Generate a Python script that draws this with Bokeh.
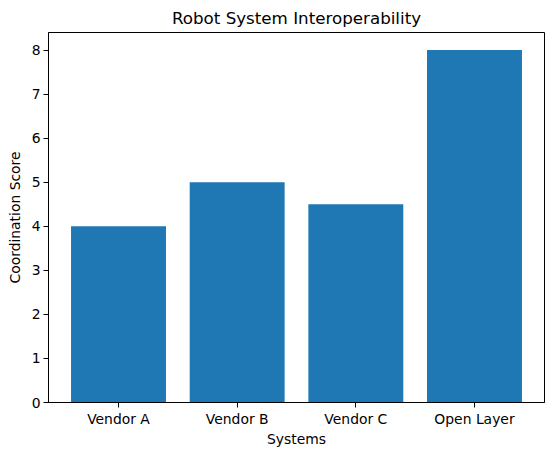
from bokeh.plotting import figure
from bokeh.models import Range1d, FixedTicker
from bokeh.embed import file_html
from bokeh.resources import INLINE

systems = ["Vendor A", "Vendor B", "Vendor C", "Open Layer"]
scores = [4, 5, 4.5, 8]
y_ticks = [0, 1, 2, 3, 4, 5, 6, 7, 8]

xs = list(range(len(systems)))

p = figure(frame_width=496, frame_height=370, output_backend="svg", toolbar_location=None,
           x_range=Range1d(-0.59, 3.59), y_range=Range1d(0, 8.4),
           title="Robot System Interoperability")
p.min_border_left = 48
p.min_border_right = 2
p.min_border_top = 26
p.min_border_bottom = 43

p.vbar(x=xs, top=scores, width=0.8, bottom=0, color="#1f77b4", line_color=None)

p.title.align = "center"
p.title.text_font = "DejaVu Sans"
p.title.text_font_size = "16.7px"
p.title.text_font_style = "normal"
p.title.text_color = "black"

p.xgrid.visible = False
p.ygrid.visible = False
p.outline_line_color = "black"
p.outline_line_width = 1

p.xaxis.ticker = FixedTicker(ticks=xs)
p.xaxis.major_label_overrides = {i: s for i, s in enumerate(systems)}
p.yaxis.ticker = FixedTicker(ticks=y_ticks)
p.xaxis.axis_label = "Systems"
p.yaxis.axis_label = "Coordination Score"

for ax in (p.xaxis, p.yaxis):
    ax.axis_label_text_font = "DejaVu Sans"
    ax.axis_label_text_font_size = "13.9px"
    ax.axis_label_text_font_style = "normal"
    ax.axis_label_text_color = "black"
    ax.major_label_text_font = "DejaVu Sans"
    ax.major_label_text_font_size = "13.9px"
    ax.major_label_text_color = "black"
    ax.major_tick_out = 5
    ax.major_tick_in = 0
    ax.minor_tick_line_color = None
    ax.axis_line_color = "black"
    ax.major_tick_line_color = "black"
    ax.major_label_standoff = 3
p.xaxis.axis_label_standoff = 1
p.yaxis.axis_label_standoff = 6

open("out.html", "w").write(file_html(p, INLINE))
